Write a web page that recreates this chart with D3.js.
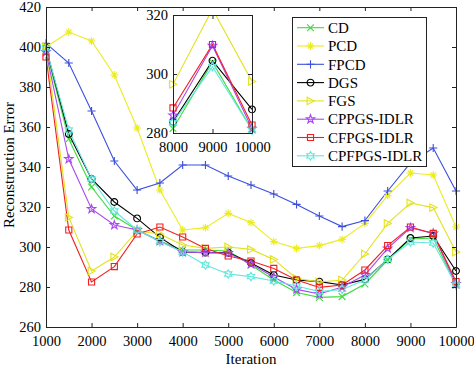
<!DOCTYPE html>
<html><head><meta charset="utf-8">
<script src="https://cdn.jsdelivr.net/npm/d3@7"></script>
<style>
html,body{margin:0;padding:0;background:#fff;}
svg{display:block;}
text{font-family:"Liberation Serif","Times New Roman",serif;fill:#000;}
</style></head>
<body>
<svg id="chart" width="474" height="366"></svg>
<script>
const iterations = [1000,1500,2000,2500,3000,3500,4000,4500,5000,5500,6000,6500,7000,7500,8000,8500,9000,9500,10000];
const CD     = [398.5,354,330,315.5,308.5,303,298.5,298.5,298,291,283.5,277.2,274.8,275.2,281.5,293.5,304,304.5,281];
const PCD    = [400,407.5,403,386,359.5,328.5,308.5,309.7,316.8,312.2,302.7,299.3,300.7,303.8,311.8,325.7,337,336,310];
const FPCD   = [401.8,392,368,343,328.5,332,341,341,335.5,331,326.5,321.3,315.5,310.2,313.2,328,342,349.5,328];
const DGS    = [399.5,356.5,334,322.5,314.3,304.8,297.5,297.2,297.2,292,286,283.5,282.7,281,283.8,293.8,304.5,305.5,288];
const FGS    = [400,314.8,288,295,308,306.5,301,299.3,300,298.8,293.8,284.3,282.5,283.5,296.5,311.8,322,319.7,297.5];
const CPPGS  = [397.5,344,319,311,308.5,303,297.5,297.2,297,291.5,285,278.8,276.5,280,286,299.3,309.6,306.8,281.5];
const CFPGS  = [395,308.5,282.5,290.2,306.5,310,305,299.3,295.5,293,289.3,283.5,279.8,281,288.5,300.7,310,306.8,282.7];
const CPFPGS = [399.5,358.5,334,318,308.5,302.7,297.5,291,286.5,285.2,283,280.5,277.7,278.8,283.5,293.8,302.5,302,281];

const seriesNames = ["CD","PCD","FPCD","DGS","FGS","CPPGS-IDLR","CFPGS-IDLR","CPFPGS-IDLR"];
const seriesValues = [CD,PCD,FPCD,DGS,FGS,CPPGS,CFPGS,CPFPGS];
const seriesColors = ["#3ddc3d","#ecec22","#3c50dc","#000000","#e2e21e","#a848f0","#f02020","#60e8dc"];
const seriesMarkers = ["x","asterisk","plus","circle","triangle","pentagram","square","hexagram"];
const insetSeries = [0,3,4,5,6,7];

const xTicks = [1000,2000,3000,4000,5000,6000,7000,8000,9000,10000];
const yTicks = [260,280,300,320,340,360,380,400,420];
const insetXTicks = [8000,9000,10000];
const insetYTicks = [280,300,320];

const svg = d3.select("#chart");
const x = d3.scaleLinear().domain([1000,10000]).range([46,456]);
const y = d3.scaleLinear().domain([260,420]).range([327,7]);

function markerPath(type, s) {
  const p = d3.path();
  if (type === "x") {
    p.moveTo(-s,-s); p.lineTo(s,s); p.moveTo(-s,s); p.lineTo(s,-s);
  } else if (type === "plus") {
    p.moveTo(-s*1.2,0); p.lineTo(s*1.2,0); p.moveTo(0,-s*1.2); p.lineTo(0,s*1.2);
  } else if (type === "asterisk") {
    const r = s*1.15, d = s*0.8;
    p.moveTo(-r,0); p.lineTo(r,0); p.moveTo(0,-r); p.lineTo(0,r);
    p.moveTo(-d,-d); p.lineTo(d,d); p.moveTo(-d,d); p.lineTo(d,-d);
  } else if (type === "circle") {
    p.arc(0,0,s,0,2*Math.PI);
  } else if (type === "square") {
    p.rect(-s*0.9,-s*0.9,s*1.8,s*1.8);
  } else if (type === "triangle") {
    p.moveTo(s*1.1,0); p.lineTo(-s*1.0,-s*1.1); p.lineTo(-s*1.0,s*1.1); p.closePath();
  } else if (type === "pentagram") {
    const R = s*1.3, r = R*0.4;
    for (let i=0;i<10;i++){
      const a = -Math.PI/2 + i*Math.PI/5, rr = i%2===0?R:r;
      const px = rr*Math.cos(a), py = rr*Math.sin(a);
      if (i===0) p.moveTo(px,py); else p.lineTo(px,py);
    }
    p.closePath();
  } else if (type === "hexagram") {
    const R = s*1.25, r = R*0.58;
    for (let i=0;i<12;i++){
      const a = -Math.PI/2 + i*Math.PI/6, rr = i%2===0?R:r;
      const px = rr*Math.cos(a), py = rr*Math.sin(a);
      if (i===0) p.moveTo(px,py); else p.lineTo(px,py);
    }
    p.closePath();
  }
  return p.toString();
}

function drawSeries(g, xs, ys, idxList, clipId, keepIters) {
  const lineGrp = g.append("g");
  if (clipId) lineGrp.attr("clip-path", `url(#${clipId})`);
  const markGrp = g.append("g");
  const [ylo, yhi] = ys.domain();
  idxList.forEach(i => {
    const vals = seriesValues[i];
    const pts = iterations.map((it,k)=>[it, vals[k]])
      .filter(d => !keepIters || keepIters.includes(d[0]));
    const line = d3.line().x(d=>xs(d[0])).y(d=>ys(d[1]));
    lineGrp.append("path").attr("d", line(pts)).attr("fill","none")
      .attr("stroke", seriesColors[i]).attr("stroke-width",1.1);
    markGrp.selectAll(null).data(pts.filter(d => d[1] >= ylo && d[1] <= yhi)).enter().append("path")
      .attr("transform", d=>`translate(${xs(d[0])},${ys(d[1])})`)
      .attr("d", markerPath(seriesMarkers[i], 3.4))
      .attr("fill","none").attr("stroke", seriesColors[i]).attr("stroke-width",1.1);
  });
}

function drawBox(g, xs, ys, xt, yt, xpad, ypad) {
  const [xa,xb] = xs.range(), [ya,yb] = ys.range();
  const bottom = g.append("g").attr("transform",`translate(0,${ya})`)
    .call(d3.axisBottom(xs).tickValues(xt).tickSizeInner(-4).tickSizeOuter(0).tickPadding(xpad).tickFormat(d3.format("d")));
  const left = g.append("g").attr("transform",`translate(${xa},0)`)
    .call(d3.axisLeft(ys).tickValues(yt).tickSizeInner(-4).tickSizeOuter(0).tickPadding(ypad).tickFormat(d3.format("d")));
  const top = g.append("g").attr("transform",`translate(0,${yb})`)
    .call(d3.axisTop(xs).tickValues(xt).tickSizeInner(-4).tickSizeOuter(0).tickFormat(""));
  const right = g.append("g").attr("transform",`translate(${xb},0)`)
    .call(d3.axisRight(ys).tickValues(yt).tickSizeInner(-4).tickSizeOuter(0).tickFormat(""));
  [bottom,left,top,right].forEach(a => {
    a.select(".domain").attr("stroke","#222").attr("stroke-width",1);
    a.selectAll(".tick line").attr("stroke","#222");
    a.selectAll("text").attr("font-family","'Liberation Serif','Times New Roman',serif").attr("font-size","14.5px").attr("fill","#000");
  });
}

// main axes
drawSeries(svg, x, y, [0,1,2,3,4,5,6,7], null, null);
drawBox(svg, x, y, xTicks, yTicks, 9, 5);

svg.append("text").attr("x", (46+456)/2).attr("y", 364).attr("text-anchor","middle")
  .attr("font-size","15px").text("Iteration");
svg.append("text").attr("transform","translate(14,165) rotate(-90)").attr("text-anchor","middle")
  .attr("font-size","15px").text("Reconstruction Error");

// legend
const lg = svg.append("g");
lg.append("rect").attr("x",292.5).attr("y",17.5).attr("width",134).attr("height",149)
  .attr("fill","#fff").attr("stroke","#222").attr("stroke-width",1);
seriesNames.forEach((name,i) => {
  const cy = 27.7 + i*18.3;
  lg.append("line").attr("x1",297).attr("x2",324).attr("y1",cy).attr("y2",cy)
    .attr("stroke",seriesColors[i]).attr("stroke-width",1.1);
  lg.append("path").attr("transform",`translate(310.5,${cy})`).attr("d", markerPath(seriesMarkers[i],3.4))
    .attr("fill","none").attr("stroke",seriesColors[i]).attr("stroke-width",1.1);
  lg.append("text").attr("x",328).attr("y",cy).attr("dy","0.35em").attr("font-size","15px").text(name);
});

// inset
const ix = d3.scaleLinear().domain([8000,10000]).range([173,252]);
const iy = d3.scaleLinear().domain([280,320]).range([133,15]);
const ig = svg.append("g");
ig.append("rect").attr("x",173).attr("y",15).attr("width",79).attr("height",118).attr("fill","#fff");
svg.append("defs").append("clipPath").attr("id","insetClip")
  .append("rect").attr("x",173).attr("y",15).attr("width",79).attr("height",118);
drawSeries(ig, ix, iy, insetSeries, "insetClip", insetXTicks);
drawBox(ig, ix, iy, insetXTicks, insetYTicks, 9, 5);
</script>
</body></html>
